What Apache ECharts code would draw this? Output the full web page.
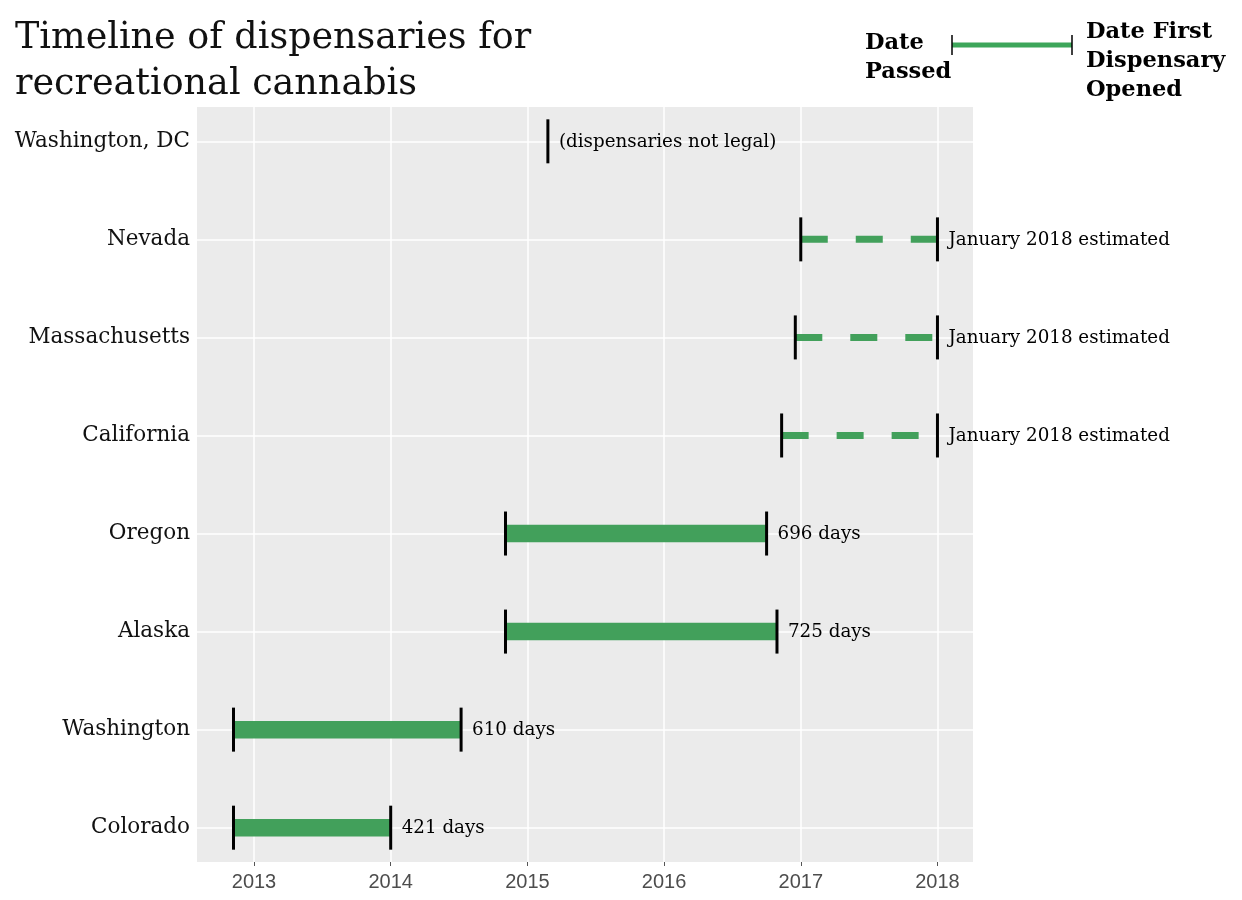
<!DOCTYPE html>
<html>
<head>
<meta charset="utf-8">
<script src="https://cdn.jsdelivr.net/npm/echarts@6/dist/echarts.min.js"></script>
<style>html,body{margin:0;padding:0;background:#fff}#c{width:1242px;height:900px}</style>
</head>
<body>
<div id="c"></div>
<script>
// Rows from bottom (1) to top (8)
const states = ['Colorado', 'Washington', 'Alaska', 'Oregon', 'California', 'Massachusetts', 'Nevada', 'Washington, DC'];
// Decimal years
const datePassed = [2012.85, 2012.85, 2014.84, 2014.84, 2016.86, 2016.96, 2017.0, 2015.15];
const dateOpened = [2014.0, 2014.515, 2016.826, 2016.75, 2018.0, 2018.0, 2018.0, null];
const estimated = [false, false, false, false, true, true, true, false];
const endLabels = ['421 days', '610 days', '725 days', '696 days', 'January 2018 estimated', 'January 2018 estimated', 'January 2018 estimated', '(dispensaries not legal)'];
const yearTicks = [2013, 2014, 2015, 2016, 2017, 2018];
const rowTicks = [1, 2, 3, 4, 5, 6, 7, 8];

const SERIF = '"DejaVu Serif", Georgia, serif';
const GREEN = '#42a05b';

const rows = states.map((s, i) => [datePassed[i], dateOpened[i] == null ? datePassed[i] : dateOpened[i], i + 1, endLabels[i], estimated[i] ? 1 : 0, dateOpened[i] == null ? 0 : 1]);

const chart = echarts.init(document.getElementById('c'));
chart.setOption({
  backgroundColor: '#ffffff',
  animation: false,
  title: {
    text: 'Timeline of dispensaries for\nrecreational cannabis',
    left: 10, top: 11,
    textStyle: { fontFamily: SERIF, fontWeight: 'normal', fontSize: 36.5, lineHeight: 46, color: '#111' }
  },
  grid: { left: 197, right: 269, top: 107, bottom: 38, show: true, backgroundColor: '#ebebeb', borderWidth: 0 },
  xAxis: {
    type: 'value', min: 2012.583, max: 2018.26,
    axisLine: { show: false },
    axisTick: { show: true, length: 4, lineStyle: { color: '#555', width: 1 }, customValues: yearTicks },
    axisLabel: { customValues: yearTicks, color: '#4d4d4d', fontSize: 20, fontFamily: '"Liberation Sans", Arial, sans-serif', margin: 10, formatter: v => String(Math.round(v)) },
    splitLine: { show: true, lineStyle: { color: '#ffffff', width: 1.5 } }
  },
  yAxis: {
    type: 'value', min: 0.65, max: 8.35,
    axisLine: { show: false },
    axisTick: { show: false, customValues: rowTicks },
    axisLabel: { customValues: rowTicks, color: '#111', fontSize: 21.5, fontFamily: SERIF, margin: 7, padding: [4, 0, 0, 0], formatter: v => states[Math.round(v) - 1] || '' },
    splitLine: { show: true, lineStyle: { color: '#ffffff', width: 1.5 } }
  },
  series: [{
    type: 'custom',
    data: rows,
    encode: { x: [0, 1], y: 2 },
    renderItem: function (params, api) {
      const s = api.value(0), e = api.value(1), r = api.value(2), dashed = api.value(4), hasEnd = api.value(5);
      const label = endLabels[params.dataIndex];
      const p0 = api.coord([s, r]);
      const p1 = api.coord([e, r]);
      const children = [];
      if (hasEnd) {
        if (dashed) {
          children.push({ type: 'line', shape: { x1: p0[0], y1: p0[1], x2: p1[0], y2: p1[1] }, style: { stroke: GREEN, lineWidth: 7, lineDash: [27, 28] } });
        } else {
          children.push({ type: 'rect', shape: { x: p0[0], y: p0[1] - 8.75, width: p1[0] - p0[0], height: 17.5 }, style: { fill: GREEN } });
        }
      }
      children.push({ type: 'line', shape: { x1: p0[0], y1: p0[1] - 22, x2: p0[0], y2: p0[1] + 22 }, style: { stroke: '#000', lineWidth: 3 } });
      if (hasEnd) {
        children.push({ type: 'line', shape: { x1: p1[0], y1: p1[1] - 22, x2: p1[0], y2: p1[1] + 22 }, style: { stroke: '#000', lineWidth: 3 } });
      }
      children.push({ type: 'text', x: p1[0] + 11, y: p1[1] + 1, style: { text: label, fontFamily: SERIF, fontSize: 18.3, fill: '#000', verticalAlign: 'middle', align: 'left' } });
      return { type: 'group', children: children };
    }
  }],
  graphic: [
    { type: 'text', left: 865, top: 29, style: { text: 'Date\nPassed', fontFamily: SERIF, fontWeight: 'bold', fontSize: 22.5, lineHeight: 29, fill: '#000' } },
    { type: 'line', shape: { x1: 952, y1: 45, x2: 1072, y2: 45 }, style: { stroke: '#3da65a', lineWidth: 5 } },
    { type: 'line', shape: { x1: 952, y1: 35, x2: 952, y2: 55 }, style: { stroke: '#000', lineWidth: 1.5 } },
    { type: 'line', shape: { x1: 1072, y1: 35, x2: 1072, y2: 55 }, style: { stroke: '#000', lineWidth: 1.5 } },
    { type: 'text', left: 1086, top: 18, style: { text: 'Date First\nDispensary\nOpened', fontFamily: SERIF, fontWeight: 'bold', fontSize: 22.5, lineHeight: 29, fill: '#000' } }
  ]
});
</script>
</body>
</html>
